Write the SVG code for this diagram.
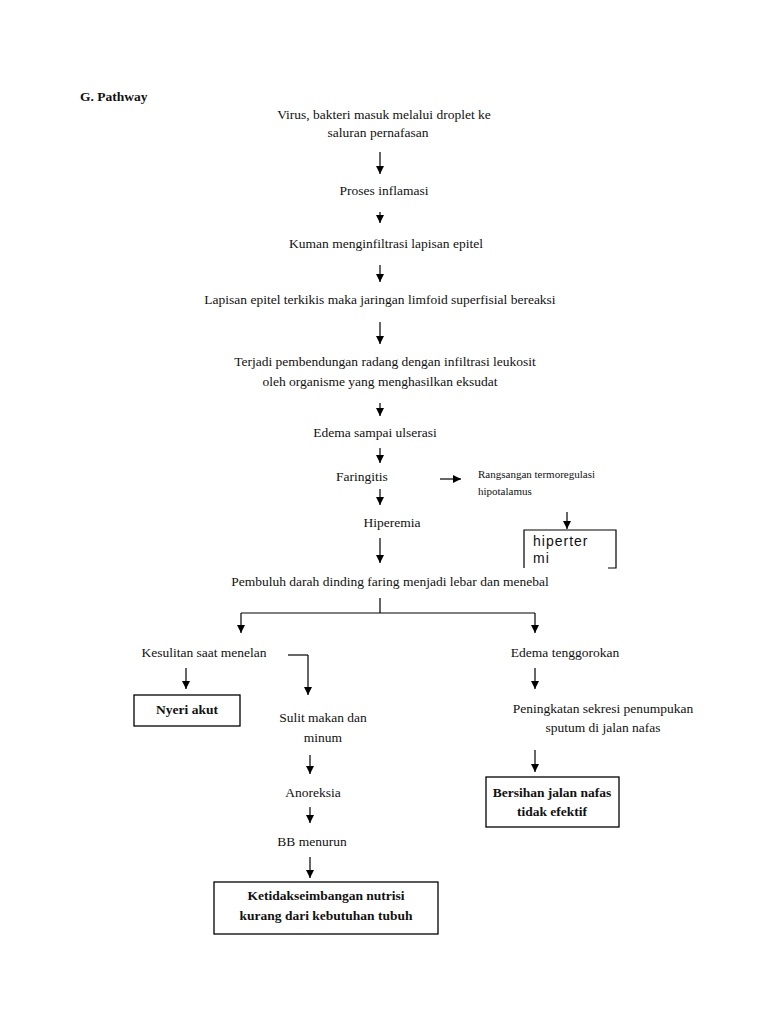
<svg xmlns="http://www.w3.org/2000/svg" width="768" height="1024" viewBox="0 0 768 1024">
<defs><marker id="ah" markerWidth="9" markerHeight="8" refX="8" refY="4" orient="auto" markerUnits="userSpaceOnUse"><path d="M0,0 L8,4 L0,8 z" fill="#000"/></marker></defs>
<style>text{font-family:"Liberation Serif",serif;font-size:13.5px;fill:#111}.c{text-anchor:middle}.b{font-weight:bold}line,path.l{stroke:#000;stroke-width:1.2;fill:none}rect.n{fill:#fff;stroke:#000;stroke-width:1.3}</style>
<rect x="0" y="0" width="768" height="1024" fill="#fff"/>
<text x="80" y="101" class="b">G. Pathway</text>
<g id="n1"><text x="384" y="119" class="c">Virus, bakteri masuk melalui droplet ke</text><text x="378" y="137" class="c">saluran pernafasan</text></g>
<g id="n2"><text x="384" y="195" class="c">Proses inflamasi</text></g>
<g id="n3"><text x="386" y="248" class="c">Kuman menginfiltrasi lapisan epitel</text></g>
<g id="n4"><text x="380" y="304" class="c">Lapisan epitel terkikis maka jaringan limfoid superfisial bereaksi</text></g>
<g id="n5"><text x="385" y="366" class="c">Terjadi pembendungan radang dengan infiltrasi leukosit</text><text x="380" y="386" class="c">oleh organisme yang menghasilkan eksudat</text></g>
<g id="n6"><text x="375" y="437" class="c">Edema sampai ulserasi</text></g>
<g id="n7"><text x="362" y="481" class="c">Faringitis</text></g>
<g id="n8"><text x="478" y="478" style="font-size:11px">Rangsangan termoregulasi</text><text x="478" y="495" style="font-size:11px">hipotalamus</text></g>
<g id="n9"><path class="l" d="M524,568 V530 H616 V568 H608"/><text x="533" y="546" style="font-family:'Liberation Sans',sans-serif;font-size:14px;letter-spacing:1px">hiperter</text><text x="533" y="563" style="font-family:'Liberation Sans',sans-serif;font-size:14px;letter-spacing:1px">mi</text></g>
<g id="n10"><text x="392" y="527" class="c">Hiperemia</text></g>
<g id="n11"><text x="390" y="586" class="c">Pembuluh darah dinding faring menjadi lebar dan menebal</text></g>
<g id="n12"><text x="204" y="657" class="c">Kesulitan saat menelan</text></g>
<g id="n13"><text x="565" y="657" class="c">Edema tenggorokan</text></g>
<g id="n14"><rect class="n" x="134" y="695" width="106" height="31"/><text x="187" y="714" class="c b">Nyeri akut</text></g>
<g id="n15"><text x="323" y="722" class="c">Sulit makan dan</text><text x="323" y="742" class="c">minum</text></g>
<g id="n16"><text x="603" y="713" class="c">Peningkatan sekresi penumpukan</text><text x="603" y="732" class="c">sputum di jalan nafas</text></g>
<g id="n17"><text x="313" y="797" class="c">Anoreksia</text></g>
<g id="n18"><rect class="n" x="486" y="777" width="133" height="50"/><text x="552" y="797" class="c b">Bersihan jalan nafas</text><text x="552" y="816" class="c b">tidak efektif</text></g>
<g id="n19"><text x="312" y="846" class="c">BB menurun</text></g>
<g id="n20"><rect class="n" x="214" y="882" width="224" height="52"/><text x="326" y="900" class="c b">Ketidakseimbangan nutrisi</text><text x="326" y="920" class="c b">kurang dari kebutuhan tubuh</text></g>
<g id="connectors">
<line x1="380" y1="152" x2="380" y2="174" marker-end="url(#ah)"/>
<line x1="380" y1="212" x2="380" y2="223" marker-end="url(#ah)"/>
<line x1="380" y1="265" x2="380" y2="282" marker-end="url(#ah)"/>
<line x1="380" y1="322" x2="380" y2="344" marker-end="url(#ah)"/>
<line x1="380" y1="403" x2="380" y2="416" marker-end="url(#ah)"/>
<line x1="380" y1="448" x2="380" y2="463" marker-end="url(#ah)"/>
<line x1="380" y1="489" x2="380" y2="505" marker-end="url(#ah)"/>
<line x1="440" y1="479" x2="461" y2="479" marker-end="url(#ah)"/>
<line x1="567" y1="512" x2="567" y2="529" marker-end="url(#ah)" stroke="#888"/>
<line x1="380" y1="538" x2="380" y2="563" marker-end="url(#ah)"/>
<path class="l" d="M380,598 V613 M241,613 H535"/>
<line x1="241" y1="613" x2="241" y2="633" marker-end="url(#ah)" stroke="#888"/>
<line x1="535" y1="613" x2="535" y2="633" marker-end="url(#ah)"/>
<path class="l" d="M288,655 H308"/>
<line x1="308" y1="655" x2="308" y2="695" marker-end="url(#ah)" stroke="#888"/>
<line x1="186" y1="668" x2="186" y2="689" marker-end="url(#ah)"/>
<line x1="535" y1="668" x2="535" y2="689" marker-end="url(#ah)"/>
<line x1="535" y1="750" x2="535" y2="772" marker-end="url(#ah)"/>
<line x1="310" y1="755" x2="310" y2="774" marker-end="url(#ah)" stroke="#888"/>
<line x1="310" y1="807" x2="310" y2="823" marker-end="url(#ah)" stroke="#888"/>
<line x1="310" y1="857" x2="310" y2="878" marker-end="url(#ah)" stroke="#888"/>
</g>
</svg>
